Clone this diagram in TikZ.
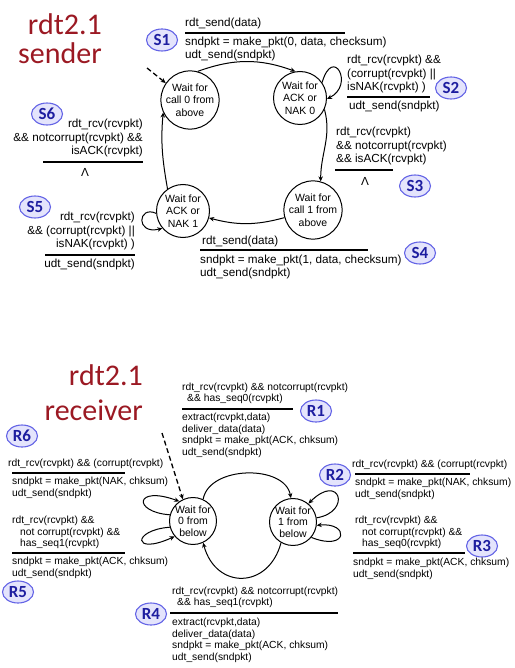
\documentclass[tikz,border=0pt]{standalone}
\usepackage{fontspec}
\setmainfont{Liberation Sans}
\newfontfamily\calfont{Carlito}
\usetikzlibrary{shapes.geometric,arrows.meta}
\definecolor{titlecol}{RGB}{155,25,35}
\definecolor{badgefill}{RGB}{228,228,252}
\definecolor{badgeline}{RGB}{100,100,230}
\definecolor{badgetext}{RGB}{30,30,160}

\begin{document}
\begin{tikzpicture}[x=1pt, y=1pt, >={Stealth[length=5pt,width=4.5pt]},
  every node/.style={inner sep=0pt},
  state/.style={draw, circle, line width=1pt, minimum size=53pt, align=center, font=\fontsize{10.5}{12.3}\selectfont},
  rstate/.style={state, minimum size=46pt, font=\fontsize{10.5}{11.5}\selectfont},
  badge/.style={draw=badgeline, fill=badgefill, ellipse, line width=1.1pt, minimum width=31pt, minimum height=22pt, text=badgetext, font=\calfont\bfseries\fontsize{17}{17}\selectfont},
  title/.style={align=right, text=titlecol, anchor=north east},
  slbl/.style={font=\fontsize{11.7}{13.3}\selectfont},
  rlbl/.style={font=\fontsize{10.3}{11.5}\selectfont},
  rule/.style={line width=1.6pt},
  trans/.style={->, line width=1pt},
  init/.style={->, line width=1.3pt, dash pattern=on 5pt off 3pt}]
  \useasboundingbox (0,0) rectangle (514,-668);

  % sender
  \node[title, font=\calfont\fontsize{30}{29}\selectfont] (sndtitle) at (102,-13) {rdt2.1\\sender};
  \node[state] (A) at (190,-100) {Wait for\\call 0 from\\above};
  \node[state] (B) at (300,-98) {Wait for\\ACK or\\NAK 0};
  \node[state] (C) at (313,-210) {Wait for\\call 1 from\\above};
  \node[state] (D) at (183,-211) {Wait for\\ACK or\\NAK 1};
  \coordinate (s0) at (147,-68);
  \draw[init] (s0) -- (A.145);
  \draw[trans] (A.75) to[bend left=20] (B.100);
  \draw[trans] (B.-25) to[out=-75,in=90] (C.75);
  \draw[trans] (C.195) to[bend left=15] (D.-15);
  \draw[trans] (D.125) to[out=100,in=-95] (A.205);
  \draw[trans] (B.35) .. controls (333,-45) and (355,-85) .. (B.-2);
  \draw[trans] (D.185) .. controls (138,-205) and (135,-235) .. (D.-140);

  \node[badge] (S1) at (162,-40) {S1};
  \node[slbl, anchor=south west] (s1top) at (185,-29) {rdt\_send(data)};
  \draw[rule] (185,-33) -- (345,-33);
  \node[slbl, anchor=north west, align=left] (s1bot) at (185,-37) {sndpkt = make\_pkt(0, data, checksum)\\udt\_send(sndpkt)};

  \node[badge] (S2) at (451,-88) {S2};
  \node[slbl, anchor=south west, align=left] (s2top) at (347,-93) {rdt\_rcv(rcvpkt) \&\&\\(corrupt(rcvpkt) ||\\isNAK(rcvpkt) )};
  \draw[rule] (347,-97) -- (430,-97);
  \node[slbl, anchor=north west] (s2bot) at (349,-101) {udt\_send(sndpkt)};

  \node[badge] (S3) at (415,-186) {S3};
  \node[slbl, anchor=south west, align=left] (s3top) at (336,-165) {rdt\_rcv(rcvpkt)\\\&\& notcorrupt(rcvpkt)\\\&\& isACK(rcvpkt)};
  \draw[rule] (335,-170) -- (393,-170);
  \node[slbl, anchor=north] (s3bot) at (365,-177) {Λ};

  \node[badge] (S4) at (420,-253) {S4};
  \node[slbl, anchor=south west] (s4top) at (202,-247) {rdt\_send(data)};
  \draw[rule] (200,-250) -- (368,-250);
  \node[slbl, anchor=north west, align=left] (s4bot) at (200,-255) {sndpkt = make\_pkt(1, data, checksum)\\udt\_send(sndpkt)};

  \node[badge] (S5) at (35,-207) {S5};
  \node[slbl, anchor=south east, align=right] (s5top) at (135,-250) {rdt\_rcv(rcvpkt)\\\&\& (corrupt(rcvpkt) ||\\isNAK(rcvpkt) )};
  \draw[rule] (45,-255) -- (135,-255);
  \node[slbl, anchor=north east] (s5bot) at (135,-259) {udt\_send(sndpkt)};

  \node[badge] (S6) at (47,-114) {S6};
  \node[slbl, anchor=south east, align=right] (s6top) at (143,-157) {rdt\_rcv(rcvpkt)\\\&\& notcorrupt(rcvpkt) \&\&\\isACK(rcvpkt)};
  \draw[rule] (43,-162) -- (143,-162);
  \node[slbl, anchor=north] (s6bot) at (85,-168) {Λ};

  % receiver
  \node[title, font=\calfont\fontsize{30}{35}\selectfont] (rcvtitle) at (143,-364) {rdt2.1\\receiver};
  \node[rstate] (E) at (193,-521) {Wait for\\0 from\\below};
  \node[rstate] (F) at (293,-522) {Wait for\\1 from\\below};
  \coordinate (r0) at (162,-433);
  \draw[init] (r0) -- (E.115);
  \draw[trans] (E.65) to[out=80,in=100] (F.95);
  \draw[trans] (F.-120) to[out=-105,in=-75,looseness=1.6] (E.-65);
  \draw[trans] (E.165) .. controls (132,-512) and (135,-485) .. (E.125);
  \draw[trans] (E.-165) .. controls (132,-530) and (132,-556) .. (E.-140);
  \draw[trans] (F.10) .. controls (352,-512) and (340,-472) .. (F.50);
  \draw[trans] (F.-40) .. controls (348,-552) and (350,-522) .. (F.-8);

  \node[badge] (R1) at (316,-411) {R1};
  \node[rlbl, anchor=south west, align=left] (r1top) at (182,-404) {rdt\_rcv(rcvpkt) \&\& notcorrupt(rcvpkt)\\\hspace*{5pt}\&\& has\_seq0(rcvpkt)};
  \draw[rule] (182,-409) -- (293,-409);
  \node[rlbl, anchor=north west, align=left] (r1bot) at (182,-413) {extract(rcvpkt,data)\\deliver\_data(data)\\sndpkt = make\_pkt(ACK, chksum)\\udt\_send(sndpkt)};

  \node[badge] (R2) at (335,-475) {R2};
  \node[rlbl, anchor=south west] (r2top) at (352,-470) {rdt\_rcv(rcvpkt) \&\& (corrupt(rcvpkt)};
  \draw[rule] (355,-474) -- (470,-474);
  \node[rlbl, anchor=north west, align=left] (r2bot) at (355,-478) {sndpkt = make\_pkt(NAK, chksum)\\udt\_send(sndpkt)};

  \node[badge] (R3) at (482,-546) {R3};
  \node[rlbl, anchor=south west, align=left] (r3top) at (355,-549) {rdt\_rcv(rcvpkt) \&\&\\\hspace*{7pt}not corrupt(rcvpkt) \&\&\\\hspace*{7pt}has\_seq0(rcvpkt)};
  \draw[rule] (353,-553) -- (465,-553);
  \node[rlbl, anchor=north west, align=left] (r3bot) at (353,-558) {sndpkt = make\_pkt(ACK, chksum)\\udt\_send(sndpkt)};

  \node[badge] (R4) at (151,-614) {R4};
  \node[rlbl, anchor=south west, align=left] (r4top) at (172,-608) {rdt\_rcv(rcvpkt) \&\& notcorrupt(rcvpkt)\\\hspace*{5pt}\&\& has\_seq1(rcvpkt)};
  \draw[rule] (170,-613) -- (338,-613);
  \node[rlbl, anchor=north west, align=left] (r4bot) at (172,-618) {extract(rcvpkt,data)\\deliver\_data(data)\\sndpkt = make\_pkt(ACK, chksum)\\udt\_send(sndpkt)};

  \node[badge] (R5) at (18,-592) {R5};
  \node[rlbl, anchor=south west, align=left] (r5top) at (12,-549) {rdt\_rcv(rcvpkt) \&\&\\\hspace*{8pt}not corrupt(rcvpkt) \&\&\\\hspace*{8pt}has\_seq1(rcvpkt)};
  \draw[rule] (12,-553) -- (125,-553);
  \node[rlbl, anchor=north west, align=left] (r5bot) at (12,-557) {sndpkt = make\_pkt(ACK, chksum)\\udt\_send(sndpkt)};

  \node[badge] (R6) at (22,-436) {R6};
  \node[rlbl, anchor=south west] (r6top) at (8,-469) {rdt\_rcv(rcvpkt) \&\& (corrupt(rcvpkt)};
  \draw[rule] (12,-473) -- (125,-473);
  \node[rlbl, anchor=north west, align=left] (r6bot) at (12,-477) {sndpkt = make\_pkt(NAK, chksum)\\udt\_send(sndpkt)};
\end{tikzpicture}
\end{document}
